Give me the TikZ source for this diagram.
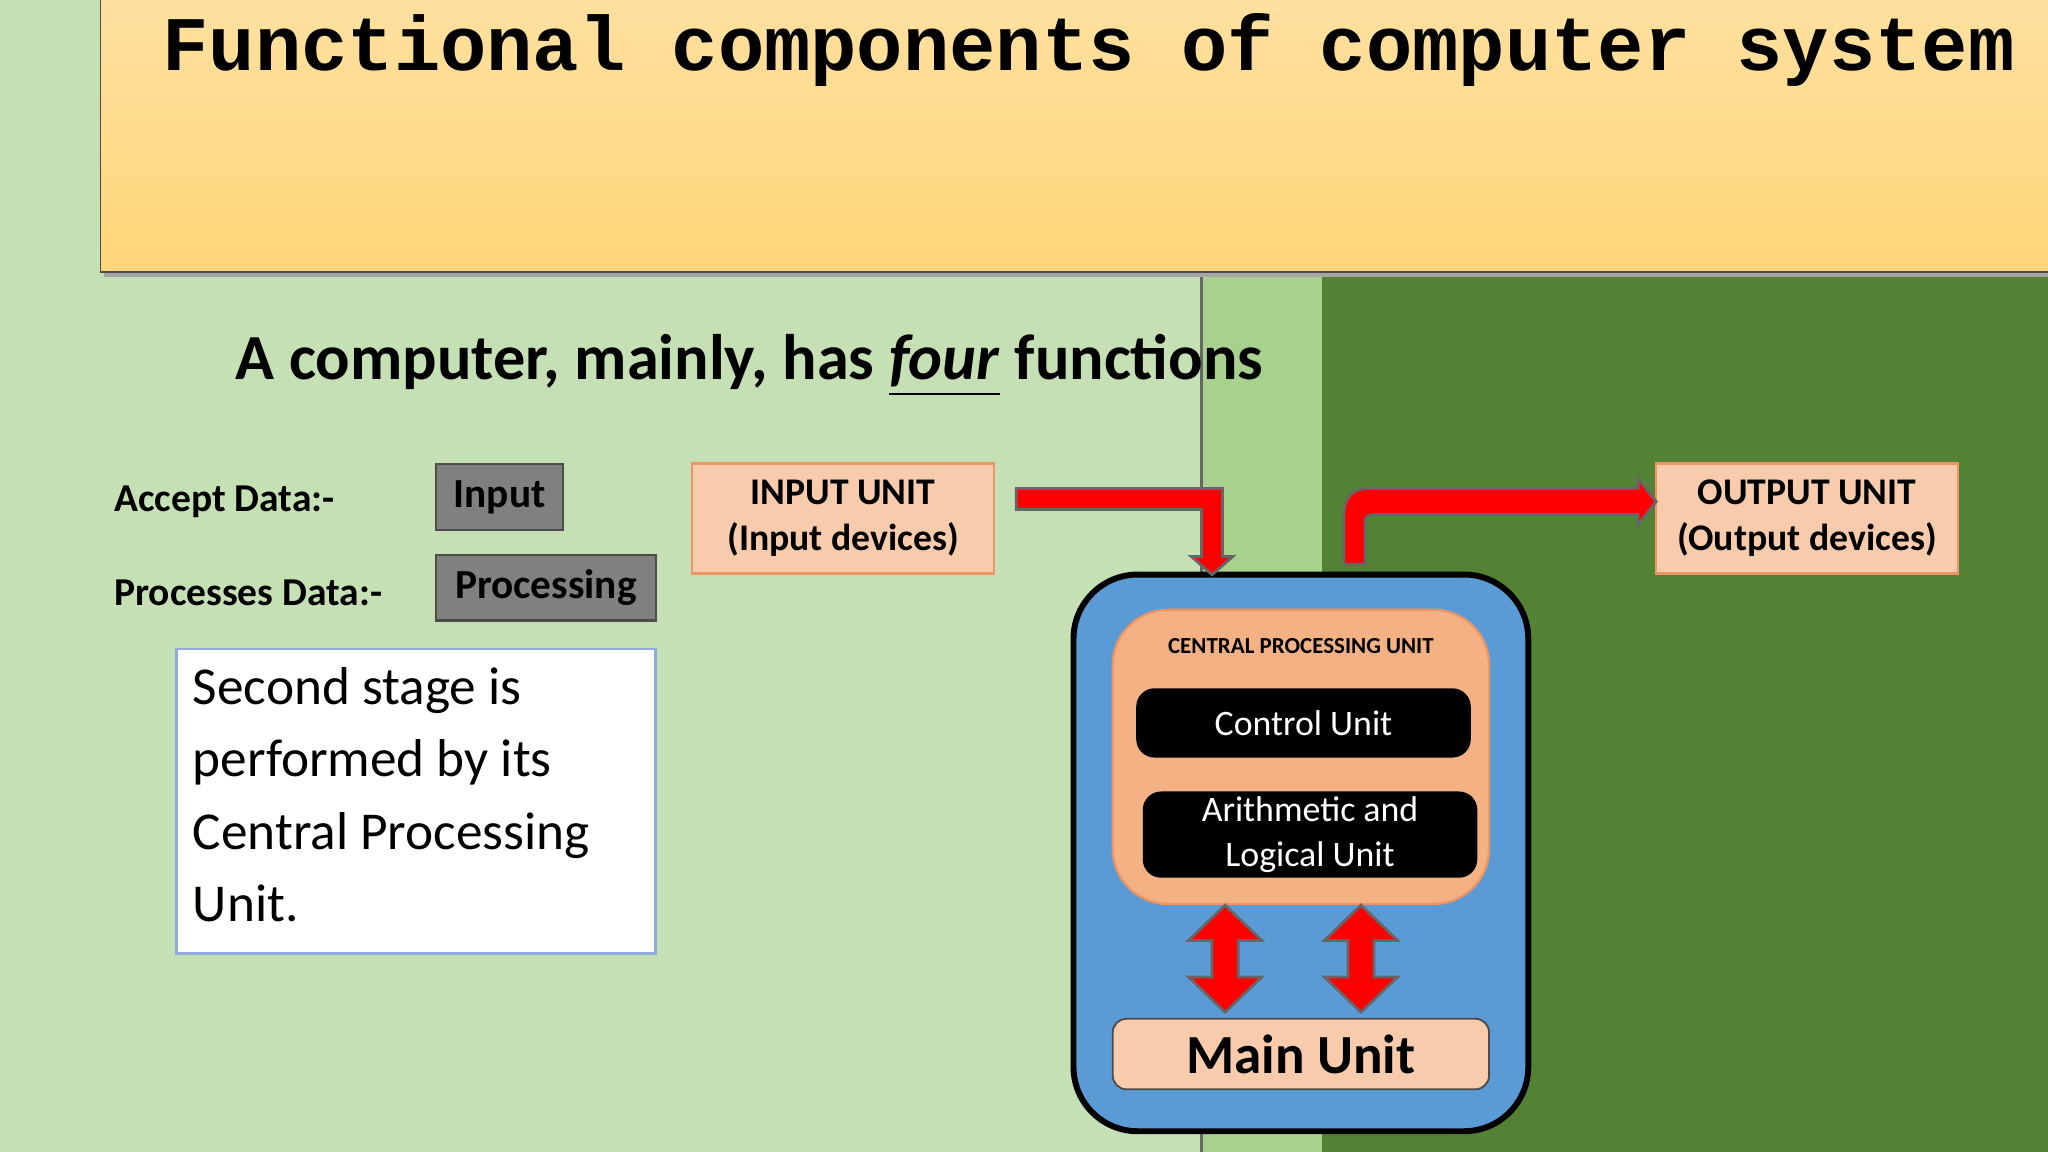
\documentclass[tikz,border=0pt]{standalone}
\usepackage{fontspec}
\setmainfont{Carlito}
\newfontfamily\monob{Liberation Mono}
\definecolor{lgreen}{RGB}{197,224,180}
\definecolor{mgreen}{RGB}{169,209,142}
\definecolor{dgreen}{RGB}{84,130,53}
\definecolor{ttop}{RGB}{255,224,160}
\definecolor{tbot}{RGB}{255,214,120}
\definecolor{tbblue}{RGB}{143,170,220}
\definecolor{cpublue}{RGB}{91,155,213}
\definecolor{cpuin}{RGB}{244,177,131}
\definecolor{salm}{RGB}{248,203,173}
\definecolor{salmb}{RGB}{237,150,100}
\begin{document}
\begin{tikzpicture}[x=0.01cm,y=-0.01cm,
 salmon/.style={draw=salmb,fill=salm,line width=0.5pt,align=center,inner sep=0pt},
 graybox/.style={draw=black!70,fill=black!50,line width=0.5pt,inner sep=0pt},
 blk/.style={fill=black,rounded corners=4pt,text=white,align=center,inner sep=0pt},
 redarr/.style={fill=red,draw=black!60,line width=0.6pt}]
\useasboundingbox (0,0) rectangle (1568,882);
\fill[lgreen] (0,0) rectangle (920,882);
\fill[mgreen] (920,0) rectangle (1012,882);
\fill[dgreen] (1012,0) rectangle (1568,882);
\draw[black!60,line width=0.6pt] (920,208) -- (920,882);
% title
\fill[black!35] (80,4) rectangle (1572,212);
\shade[top color=ttop,bottom color=tbot,draw=black!70] (77,-2) rectangle (1570,208);
\node[font=\monob\bfseries\fontsize{16.8}{18}\selectfont,anchor=west] (title) at (112,38) {Functional components of computer system};
\node[font=\bfseries\fontsize{14}{16}\selectfont,anchor=west] (sub) at (168,280) {A computer, mainly, has \underline{\textit{four}} functions};
\node[font=\bfseries\fontsize{8.6}{10}\selectfont,anchor=west] (acc) at (75,384) {Accept Data:-};
\node[font=\bfseries\fontsize{8.6}{10}\selectfont,anchor=west] (proc) at (75,454) {Processes Data:-};
\node[graybox,minimum width=0.97cm,minimum height=0.51cm,font=\bfseries\fontsize{9}{10}\selectfont] (inp) at (382.5,380.5) {Input};
\node[graybox,minimum width=1.68cm,minimum height=0.50cm,font=\bfseries\fontsize{9}{10}\selectfont] (prc) at (418,450) {Processing};
\node[draw=tbblue,fill=white,minimum width=3.67cm,minimum height=2.33cm,line width=0.6pt] (tb) at (318.5,613.5) {};
\node[anchor=north west,align=left,font=\fontsize{11.6}{15.8}\selectfont,inner sep=0pt] (tbt) at (147,510) {Second stage is\\performed by its\\Central Processing\\Unit.};
\node[salmon,minimum width=2.31cm,minimum height=0.84cm,font=\bfseries\fontsize{8.2}{10}\selectfont] (iu) at (645.5,397) {INPUT UNIT\\(Input devices)};
\node[salmon,minimum width=2.31cm,minimum height=0.84cm,font=\bfseries\fontsize{8.2}{10}\selectfont] (ou) at (1383.5,397) {OUTPUT UNIT\\(Output devices)};
% CPU
\node[draw=black,line width=1.3pt,fill=cpublue,rounded corners=14pt,minimum width=3.48cm,minimum height=4.26cm] (cpu) at (996,653) {};
\node[draw=salmb,fill=cpuin,rounded corners=12pt,minimum width=2.88cm,minimum height=2.25cm,line width=0.5pt] (cpi) at (996,579.5) {};
\node[font=\bfseries\fontsize{5}{6}\selectfont] (cpul) at (996,495) {CENTRAL PROCESSING UNIT};
\node[blk,minimum width=2.56cm,minimum height=0.53cm,font=\fontsize{7.8}{9}\selectfont] (cu) at (998,553.5) {Control Unit};
\node[blk,minimum width=2.56cm,minimum height=0.66cm,font=\fontsize{7.8}{10}\selectfont] (alu) at (1003,639) {Arithmetic and\\Logical Unit};
\node[draw=black!70,fill=salm,rounded corners=3pt,minimum width=2.88cm,minimum height=0.54cm,font=\bfseries\fontsize{12}{14}\selectfont,inner sep=0pt] (mu) at (996,807) {Main Unit};
% arrows
\draw[redarr] (778,374) -- (936,374) -- (936,426) -- (944,426) -- (928,440) -- (912,426) -- (920,426) -- (920,390) -- (778,390) -- cycle;
\draw[redarr] (1029,432) -- (1029,394) .. controls (1029,380) and (1036,374) .. (1048,374) -- (1254,374) -- (1254,366) -- (1268,384) -- (1254,402) -- (1254,394) -- (1052,394) .. controls (1047,394) and (1045,396) .. (1045,400) -- (1045,432) -- cycle;
\foreach \x in {938,1042}{
\draw[redarr] (\x,693) -- (\x+28,720) -- (\x+10,720) -- (\x+10,748) -- (\x+28,748) -- (\x,775) -- (\x-28,748) -- (\x-10,748) -- (\x-10,720) -- (\x-28,720) -- cycle;}
\end{tikzpicture}
\end{document}
